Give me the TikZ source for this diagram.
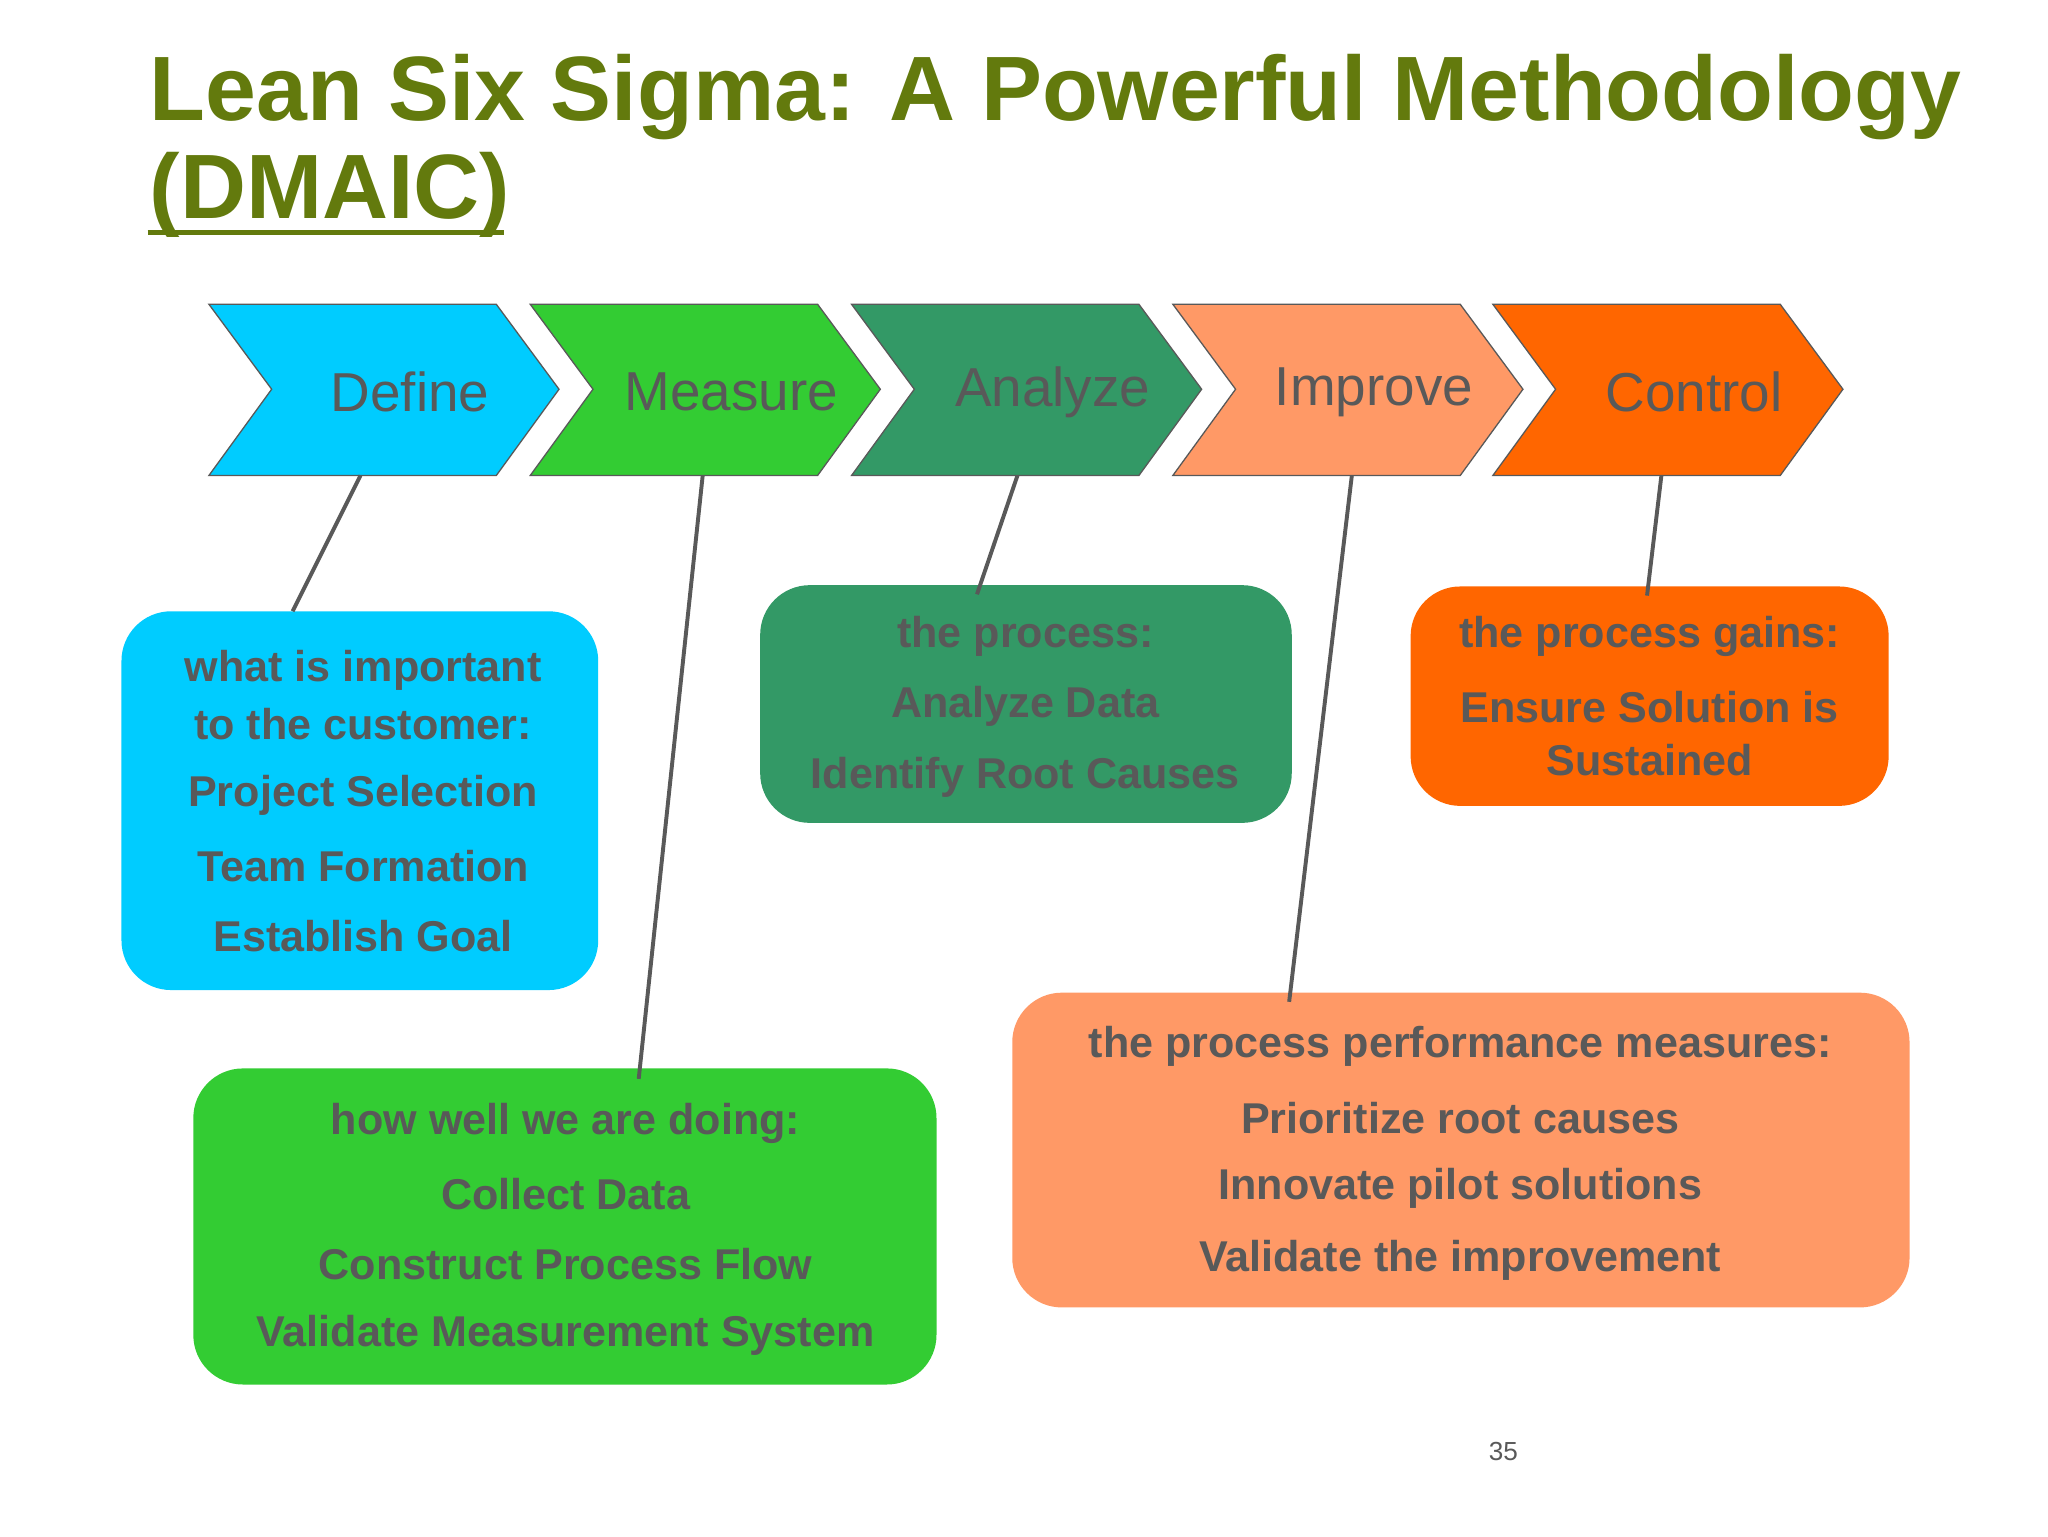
\documentclass[tikz,border=0pt]{standalone}
\usepackage{fontspec}
\setmainfont{Liberation Sans}
\begin{document}
\definecolor{olive}{RGB}{99,122,13}
\definecolor{tx}{RGB}{89,89,89}
\definecolor{cD}{RGB}{0,204,255}
\definecolor{cM}{RGB}{51,204,51}
\definecolor{cA}{RGB}{51,153,102}
\definecolor{cI}{RGB}{255,153,102}
\definecolor{cC}{RGB}{255,102,0}
\begin{tikzpicture}[x=1pt,y=-1pt,
 lab/.style={text=tx,font=\fontsize{42}{46}\selectfont},
 bt/.style={text=tx,font=\bfseries\fontsize{33}{38}\selectfont},
 box/.style={rounded corners=38pt},
 con/.style={draw=tx,line width=3pt}]
\useasboundingbox (0,0) rectangle (1568,1176);
\fill[white] (0,0) rectangle (1568,1176);
\node[anchor=base west,text=olive,font=\bfseries\fontsize{70}{80}\selectfont] (t1) at (111,92) {Lean Six Sigma: A Powerful Methodology};
\node[anchor=base west,text=olive,font=\bfseries\fontsize{70}{80}\selectfont] (t2) at (111,167) {(DMAIC)};
\draw[olive,line width=4pt] (113,178) -- (386,178);
\foreach \x/\c/\n/\t in {160/cD/d/Define,406/cM/m/Measure,652/cA/a/Analyze,898/cI/i/Improve,1143/cC/c/Control}{
 \draw[fill=\c,draw=tx,line width=1pt] (\x,233) -- (\x+220,233) -- (\x+268,298) -- (\x+220,364) -- (\x,364) -- (\x+48,298) -- cycle;
 \node[lab] (\n) at (\x+154,300) {\t};
}
% boxes
\fill[cD,box] (93,468) rectangle (458,758);
\fill[cM,box] (148,818) rectangle (717,1060);
\fill[cA,box] (582,448) rectangle (989,630);
\fill[cC,box] (1080,449) rectangle (1446,617);
\fill[cI,box] (775,760) rectangle (1462,1001);
\foreach \y/\t in {513/what is important,554/to the customer:,609/Project Selection,663/Team Formation,717/Establish Goal}
 \node[bt] at (278,\y) {\t};
\foreach \y/\t in {860/how well we are doing:,914/Collect Data,968/Construct Process Flow,1022/Validate Measurement System}
 \node[bt] at (433,\y) {\t};
\foreach \y/\t in {487/the process:,541/Analyze Data,595/Identify Root Causes}
 \node[bt] at (785,\y) {\t};
\foreach \y/\t in {487/the process gains:,541/Ensure Solution is,582/Sustained}
 \node[bt] at (1263,\y) {\t};
\foreach \y/\t in {801/the process performance measures:,856/Prioritize root causes,910/Innovate pilot solutions,965/Validate the improvement}
 \node[bt] at (1118,\y) {\t};
\coordinate (e1) at (224,468); \coordinate (s1) at (276,364);
\coordinate (e2) at (489,826); \coordinate (s2) at (538,364);
\coordinate (e3) at (748,455); \coordinate (s3) at (779,364);
\coordinate (e4) at (987,767); \coordinate (s4) at (1035,364);
\coordinate (e5) at (1261,456); \coordinate (s5) at (1272,364);
\foreach \i in {1,...,5} \draw[con] (s\i) -- (e\i);
\node[text=tx,font=\fontsize{20}{24}\selectfont] (pg) at (1151,1111) {35};
\end{tikzpicture}
\end{document}
